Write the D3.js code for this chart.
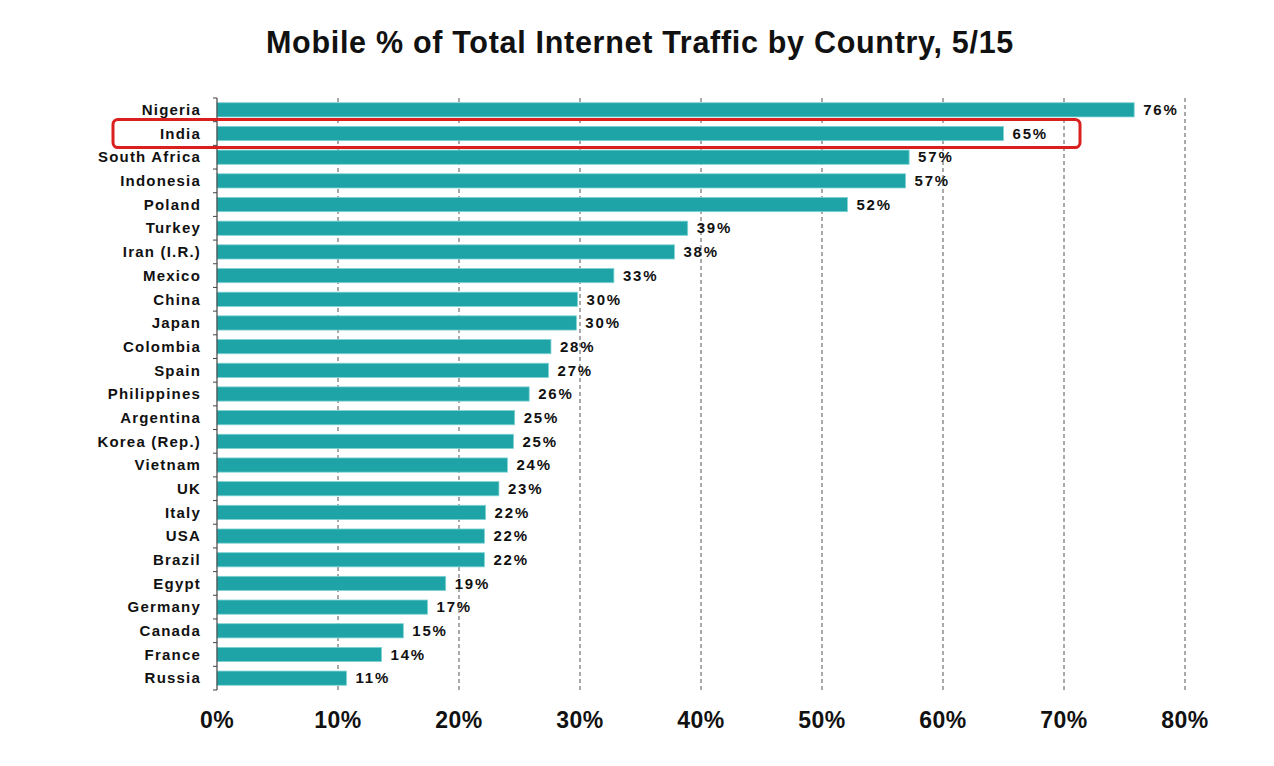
<!DOCTYPE html>
<html>
<head>
<meta charset="utf-8">
<script src="https://cdn.jsdelivr.net/npm/d3@7"></script>
<style>
  body { margin: 0; background: #fff; }
  text { font-family: "Liberation Sans", Arial, Helvetica, sans-serif; font-weight: bold; fill: #111; }
</style>
</head>
<body>
<div id="chart"></div>
<script>
const width = 1274, height = 766;

const countries = ["Nigeria", "India", "South Africa", "Indonesia", "Poland", "Turkey", "Iran (I.R.)",
  "Mexico", "China", "Japan", "Colombia", "Spain", "Philippines", "Argentina", "Korea (Rep.)",
  "Vietnam", "UK", "Italy", "USA", "Brazil", "Egypt", "Germany", "Canada", "France", "Russia"];
const mobileShare = [75.8, 65.0, 57.2, 56.9, 52.1, 38.9, 37.8, 32.8, 29.8, 29.7, 27.6, 27.4, 25.8,
  24.6, 24.5, 24.0, 23.3, 22.2, 22.1, 22.1, 18.9, 17.4, 15.4, 13.6, 10.7];
const xTicks = [0, 10, 20, 30, 40, 50, 60, 70, 80];
const highlighted = "India";

const svg = d3.select("#chart").append("svg")
  .attr("width", width)
  .attr("height", height);

const x = d3.scaleLinear().domain([0, 80]).range([217, 1185]);
const y = d3.scaleBand().domain(countries).range([98, 690]).paddingInner(0.4).paddingOuter(0.2);

// title
svg.append("text")
  .attr("x", 640)
  .attr("y", 53)
  .attr("text-anchor", "middle")
  .attr("font-size", "30.5px")
  .attr("letter-spacing", "0.7px")
  .text("Mobile % of Total Internet Traffic by Country, 5/15");

// dashed gridlines
svg.append("g")
  .selectAll("line").data(xTicks.slice(1))
  .join("line")
  .attr("x1", d => x(d)).attr("x2", d => x(d))
  .attr("y1", 98).attr("y2", 690)
  .attr("stroke", "#555")
  .attr("stroke-width", 1)
  .attr("stroke-dasharray", "4,3");

// bars
svg.append("g")
  .selectAll("rect").data(countries)
  .join("rect")
  .attr("x", x(0))
  .attr("y", d => y(d))
  .attr("width", (d, i) => x(mobileShare[i]) - x(0))
  .attr("height", y.bandwidth())
  .attr("fill", "#1ea4a6")
  .attr("stroke", "#7fd3d4")
  .attr("stroke-width", 0.8);

// y axis line with ticks between categories
const yAxis = svg.append("g");
yAxis.append("line")
  .attr("x1", x(0)).attr("x2", x(0))
  .attr("y1", 98).attr("y2", 690)
  .attr("stroke", "#444").attr("stroke-width", 1.2);
yAxis.selectAll(".tick").data(d3.range(countries.length + 1))
  .join("line")
  .attr("class", "tick")
  .attr("x1", x(0) - 4).attr("x2", x(0))
  .attr("y1", i => 98 + i * y.step()).attr("y2", i => 98 + i * y.step())
  .attr("stroke", "#444");

// category labels
svg.append("g")
  .selectAll("text").data(countries)
  .join("text")
  .attr("x", 201)
  .attr("y", d => y(d) + y.bandwidth() / 2)
  .attr("dy", "0.35em")
  .attr("text-anchor", "end")
  .attr("font-size", "15px")
  .attr("letter-spacing", "1.2px")
  .text(d => d);

// value labels
svg.append("g")
  .selectAll("text").data(countries)
  .join("text")
  .attr("x", (d, i) => x(mobileShare[i]) + 9)
  .attr("y", d => y(d) + y.bandwidth() / 2)
  .attr("dy", "0.35em")
  .attr("font-size", "15px")
  .attr("letter-spacing", "1.8px")
  .text((d, i) => Math.round(mobileShare[i]) + "%");

// x axis labels
svg.append("g")
  .selectAll("text").data(xTicks)
  .join("text")
  .attr("x", d => x(d))
  .attr("y", 728)
  .attr("text-anchor", "middle")
  .attr("font-size", "23px")
  .attr("letter-spacing", "0.5px")
  .text(d => d + "%");

// highlight box around India
svg.append("rect")
  .attr("x", 113)
  .attr("y", y(highlighted) - 7)
  .attr("width", 967)
  .attr("height", y.bandwidth() + 14)
  .attr("rx", 5)
  .attr("fill", "none")
  .attr("stroke", "#d9201f")
  .attr("stroke-width", 3);
</script>
</body>
</html>
